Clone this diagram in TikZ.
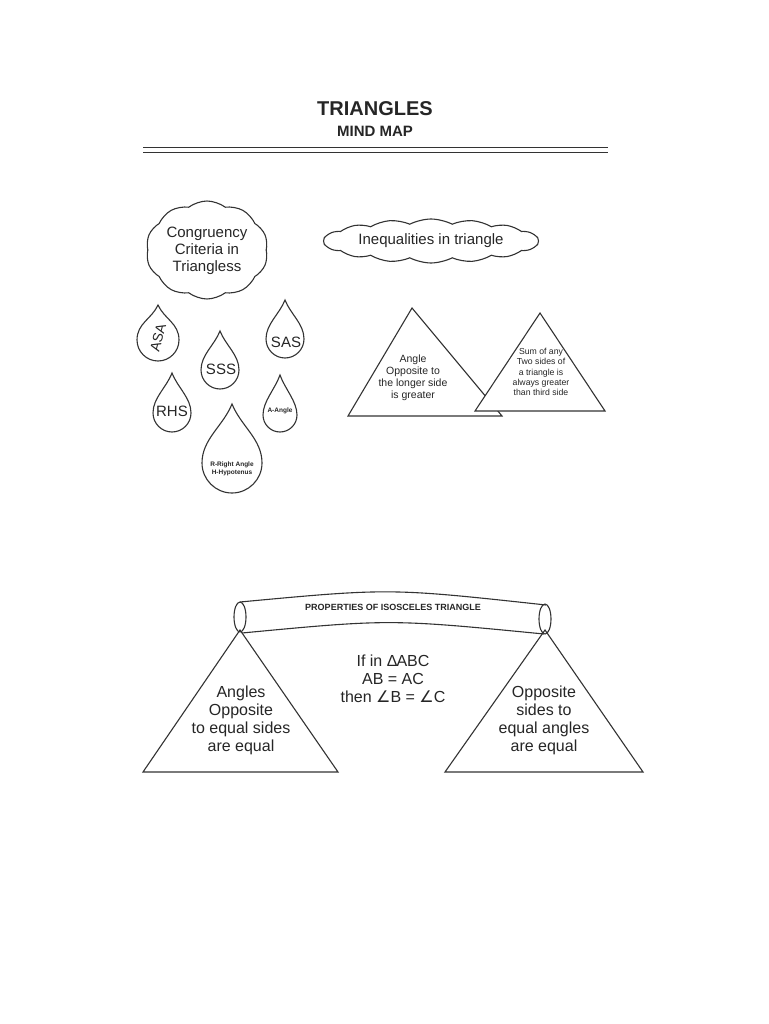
\documentclass[tikz,border=0pt]{standalone}
\usepackage{fontspec}
\setmainfont{Liberation Sans}
\newfontfamily\djv{DejaVu Sans}
\usetikzlibrary{shapes.symbols}
\newcommand\tdrop[4]{% x, ytop, ybot, r
\pgfmathsetmacro\dx{#1}\pgfmathsetmacro\dt{#2}\pgfmathsetmacro\db{#3}\pgfmathsetmacro\dr{#4}
\pgfmathsetmacro\dc{\db-\dr}\pgfmathsetmacro\dh{\db-\dt}
\draw[dropline] (\dx,\dt) .. controls ({\dx+0.3*\dr},{\dt+0.25*\dh}) and ({\dx+\dr},{\dc-0.8*\dr}) .. ({\dx+\dr},\dc)
 .. controls ({\dx+\dr},{\dc+0.55*\dr}) and ({\dx+0.55*\dr},\db) .. (\dx,\db)
 .. controls ({\dx-0.55*\dr},\db) and ({\dx-\dr},{\dc+0.55*\dr}) .. ({\dx-\dr},\dc)
 .. controls ({\dx-\dr},{\dc-0.8*\dr}) and ({\dx-0.3*\dr},{\dt+0.25*\dh}) .. cycle;}
\begin{document}
\begin{tikzpicture}[x=1pt,y=-1pt,
 dropline/.style={draw=black!80,line width=1.1pt},
 shp/.style={draw=black!80,line width=1.1pt},
 txt/.style={align=center,font=\fontsize{15}{17}\selectfont,text=black!85},
 small/.style={align=center,font=\fontsize{10.5}{12}\selectfont,text=black!85},
 tiny/.style={align=center,font=\bfseries\fontsize{6.5}{8}\selectfont,text=black!85},
 cloudb/.style={cloud,draw=black!80,line width=1.1pt,inner sep=0pt}]
\useasboundingbox[fill=white] (0,0) rectangle (768,1024);
\node[font=\bfseries\fontsize{20}{22}\selectfont,text=black!85] (t1) at (375,109) {TRIANGLES};
\node[font=\bfseries\fontsize{15}{17}\selectfont,text=black!85] (t2) at (375,131) {MIND MAP};
\draw[line width=1pt,black!80] (143,148) -- (608,148) (143,153) -- (608,153);
% clouds
\node[cloudb,cloud puffs=10,cloud puff arc=75,aspect=1.3,minimum width=122pt,minimum height=98pt] (c1) at (207,250) {};
\node[txt] (c1t) at (207,251) {Congruency\\Criteria in\\Triangless};
\node[cloudb,cloud puffs=16,cloud puff arc=55,aspect=5,minimum width=215pt,minimum height=44pt] (c2) at (431,241) {};
\node[txt] (c2t) at (431,241) {Inequalities in triangle};
% drops
\tdrop{158}{305}{361}{21}
\node[txt,font=\fontsize{14}{16}\selectfont,rotate=75,inner sep=1pt] (asa) at (158,338) {ASA};
\tdrop{220}{331}{389}{19}
\node[txt] (sss) at (221,369) {SSS};
\tdrop{285}{300}{358}{19}
\node[txt] (sas) at (286,342) {SAS};
\tdrop{172}{373}{432}{19}
\node[txt] (rhs) at (172,411) {RHS};
\tdrop{280}{375}{432}{17}
\node[tiny] (aang) at (280,411) {A-Angle};
\tdrop{232}{404}{493}{30}
\node[tiny] (rr) at (232,469) {R-Right Angle\\H-Hypotenus};
% inequality triangles
\draw[shp] (412,308) -- (502,416) -- (348,416) -- cycle;
\node[small] (tr1) at (413,378) {Angle\\Opposite to\\the longer side\\is greater};
\draw[shp,fill=white] (540,313) -- (605,411) -- (475,411) -- cycle;
\node[small,font=\fontsize{8.7}{10.3}\selectfont] (tr2) at (541,372) {Sum of any\\Two sides of\\a triangle is\\always greater\\than third side};
% banner
\draw[shp] (240,602) .. controls (390,588) .. (546,605);
\draw[shp] (242,633) .. controls (390,619) .. (544,634);
\draw[shp] (240,617) ellipse [x radius=6, y radius=15];
\draw[shp] (545,619) ellipse [x radius=6, y radius=15];
\node[font=\bfseries\fontsize{9}{10}\selectfont,text=black!85] (bt) at (393,607) {PROPERTIES OF ISOSCELES TRIANGLE};
% isosceles triangles
\draw[shp] (240,630) -- (338,772) -- (143,772) -- cycle;
\node[txt,font=\fontsize{16}{18}\selectfont] (it1) at (241,720) {Angles\\Opposite\\to equal sides\\are equal};
\draw[shp] (545,630) -- (643,772) -- (445,772) -- cycle;
\node[txt,font=\fontsize{16}{18}\selectfont] (it2) at (544,720) {Opposite\\sides to\\equal angles\\are equal};
\node[txt,font=\fontsize{16}{18}\selectfont] (mid) at (393,679) {If in Δ\kern-1ptABC\\AB = AC\\then {\djv ∠}B = {\djv ∠}C};
\end{tikzpicture}
\end{document}
